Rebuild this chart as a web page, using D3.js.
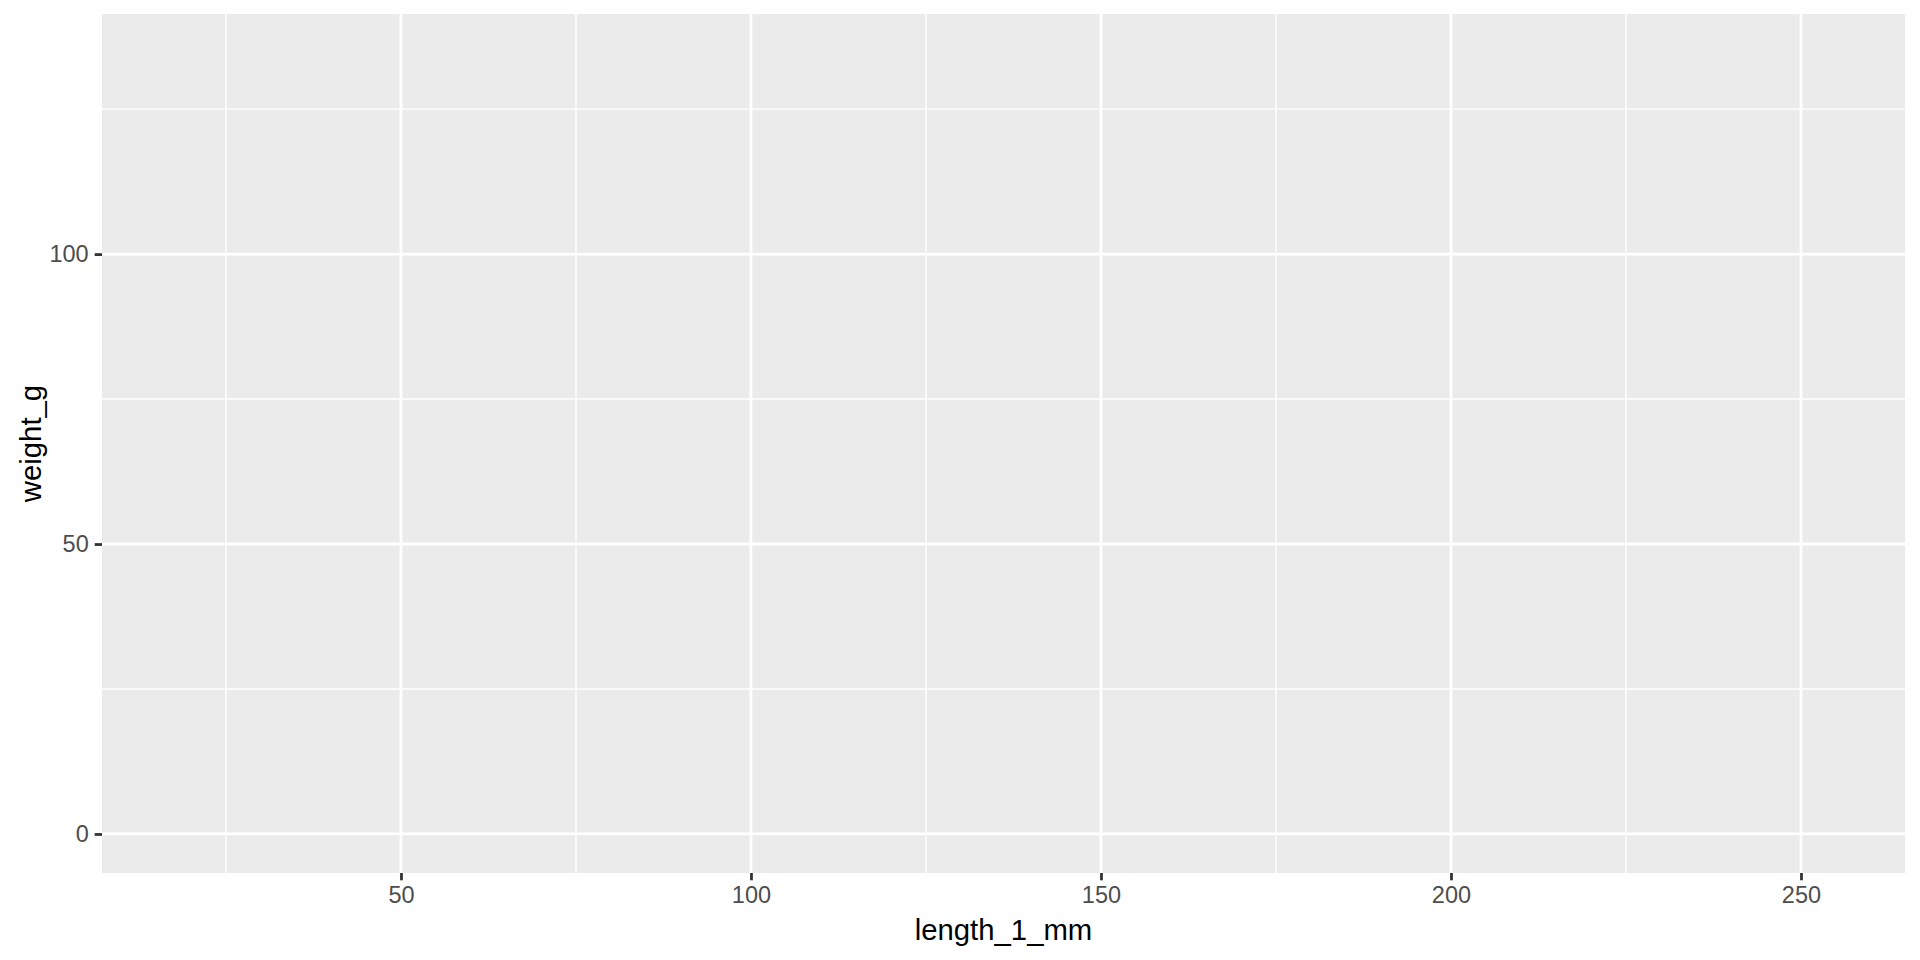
<!DOCTYPE html>
<html>
<head>
<meta charset="utf-8">
<script src="https://cdn.jsdelivr.net/npm/d3@7"></script>
<style>
  body { margin: 0; background: #fff; }
  svg text { font-family: "Liberation Sans", Arial, sans-serif; }
</style>
</head>
<body>
<div id="chart"></div>
<script>
var points = [];
var xTicks = [50, 100, 150, 200, 250];
var xMinor = [25, 75, 125, 175, 225];
var yTicks = [0, 50, 100];
var yMinor = [25, 75, 125];
var xDomain = [7.29, 264.86];
var yDomain = [-6.73, 141.4];
var xTitle = 'length_1_mm';
var yTitle = 'weight_g';

var W = 1920, H = 960;
var panel = {left: 102, right: 1905, top: 14, bottom: 873};
var tickLen = 7.3;

var svg = d3.select('#chart')
            .append('svg')
            .attr('width', W)
            .attr('height', H);

var x = d3.scaleLinear().domain(xDomain).range([panel.left, panel.right]);
var y = d3.scaleLinear().domain(yDomain).range([panel.bottom, panel.top]);

// panel background
svg.append('rect')
   .attr('x', panel.left)
   .attr('y', panel.top)
   .attr('width', panel.right - panel.left)
   .attr('height', panel.bottom - panel.top)
   .attr('fill', '#EBEBEB');

var grid = svg.append('g');

// minor grid
grid.selectAll('.vminor').data(xMinor).enter().append('line')
    .attr('x1', function(d) { return x(d); }).attr('x2', function(d) { return x(d); })
    .attr('y1', panel.top).attr('y2', panel.bottom)
    .attr('stroke', '#fff').attr('stroke-width', 1.4);
grid.selectAll('.hminor').data(yMinor).enter().append('line')
    .attr('y1', function(d) { return y(d); }).attr('y2', function(d) { return y(d); })
    .attr('x1', panel.left).attr('x2', panel.right)
    .attr('stroke', '#fff').attr('stroke-width', 1.4);

// major grid
grid.selectAll('.vmajor').data(xTicks).enter().append('line')
    .attr('x1', function(d) { return x(d); }).attr('x2', function(d) { return x(d); })
    .attr('y1', panel.top).attr('y2', panel.bottom)
    .attr('stroke', '#fff').attr('stroke-width', 2.8);
grid.selectAll('.hmajor').data(yTicks).enter().append('line')
    .attr('y1', function(d) { return y(d); }).attr('y2', function(d) { return y(d); })
    .attr('x1', panel.left).attr('x2', panel.right)
    .attr('stroke', '#fff').attr('stroke-width', 2.8);

// points (none in this plot)
svg.selectAll('circle').data(points).enter().append('circle')
   .attr('cx', function(d) { return x(d[0]); })
   .attr('cy', function(d) { return y(d[1]); })
   .attr('r', 4).attr('fill', '#000');

// axes
var xAxis = d3.axisBottom(x).tickValues(xTicks).tickSize(tickLen).tickPadding(6);
var gx = svg.append('g')
            .attr('transform', 'translate(0,' + panel.bottom + ')')
            .call(xAxis);
gx.select('.domain').remove();
gx.selectAll('line').attr('stroke', '#333333').attr('stroke-width', 2.8);
gx.selectAll('text').attr('fill', '#4D4D4D').attr('font-size', '23.5px');

var yAxis = d3.axisLeft(y).tickValues(yTicks).tickSize(tickLen).tickPadding(6);
var gy = svg.append('g')
            .attr('transform', 'translate(' + panel.left + ',0)')
            .call(yAxis);
gy.select('.domain').remove();
gy.selectAll('line').attr('stroke', '#333333').attr('stroke-width', 2.8);
gy.selectAll('text').attr('fill', '#4D4D4D').attr('font-size', '23.5px');

// axis titles
svg.append('text')
   .attr('x', (panel.left + panel.right) / 2)
   .attr('y', 940)
   .attr('text-anchor', 'middle')
   .attr('font-size', '29.3px')
   .attr('fill', '#000')
   .text(xTitle);

svg.append('text')
   .attr('transform', 'translate(41,' + ((panel.top + panel.bottom) / 2) + ') rotate(-90)')
   .attr('text-anchor', 'middle')
   .attr('font-size', '29.3px')
   .attr('fill', '#000')
   .text(yTitle);
</script>
</body>
</html>
